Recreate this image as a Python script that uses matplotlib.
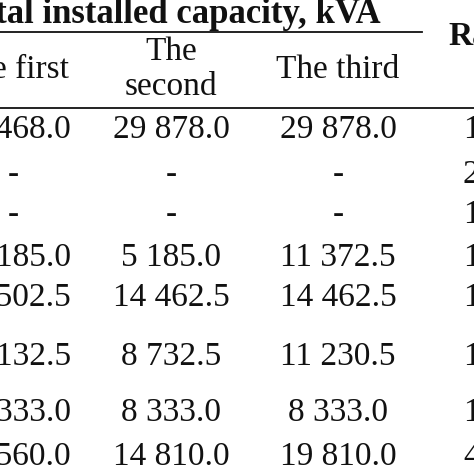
import matplotlib
matplotlib.use("Agg")
import matplotlib.pyplot as plt

first = ["29 468.0", "-", "-", "5 185.0", "14 502.5", "8 132.5", "8 333.0", "14 560.0"]
second = ["29 878.0", "-", "-", "5 185.0", "14 462.5", "8 732.5", "8 333.0", "14 810.0"]
third = ["29 878.0", "-", "-", "11 372.5", "14 462.5", "11 230.5", "8 333.0", "19 810.0"]
ratio = ["1", "2", "1", "1", "1", "1", "1", "4"]
row_y = [130, 175, 215, 258, 298, 357, 413, 457]

W = H = 474
fig = plt.figure(figsize=(4.74, 4.74), dpi=100)
ax = fig.add_axes([0, 0, 1, 1])
ax.set_xlim(0, W); ax.set_ylim(H, 0); ax.axis("off")
fs = 24
kw = dict(family="Liberation Serif", va="center", color="#111111")

ax.text(381, 14, "Total installed capacity, kVA", ha="right", weight="bold", fontsize=25, **kw)
ax.plot([-5, 422], [32, 32], color="#111", lw=1.3)
ax.text(448, 36, "Rated", ha="left", weight="bold", fontsize=fs, **kw)
ax.plot([-5, 480], [108, 108], color="#111", lw=1.3)
ax.text(69, 70, "The first", ha="right", fontsize=fs, **kw)
ax.text(171, 52, "The", ha="center", fontsize=fs, **kw)
ax.text(171, 87, "second", ha="center", fontsize=fs, **kw)
ax.text(338, 70, "The third", ha="center", fontsize=fs, **kw)

for i, y in enumerate(row_y):
    f = first[i]
    if f == "-":
        ax.text(13, y, f, ha="center", fontsize=fs, **kw)
    else:
        ax.text(71, y, f, ha="right", fontsize=fs, **kw)
    ax.text(171, y, second[i], ha="center", fontsize=fs, **kw)
    ax.text(338, y, third[i], ha="center", fontsize=fs, **kw)
    ax.text(463, y, ratio[i], ha="left", fontsize=fs, **kw)

fig.savefig("out.png", dpi=100)
